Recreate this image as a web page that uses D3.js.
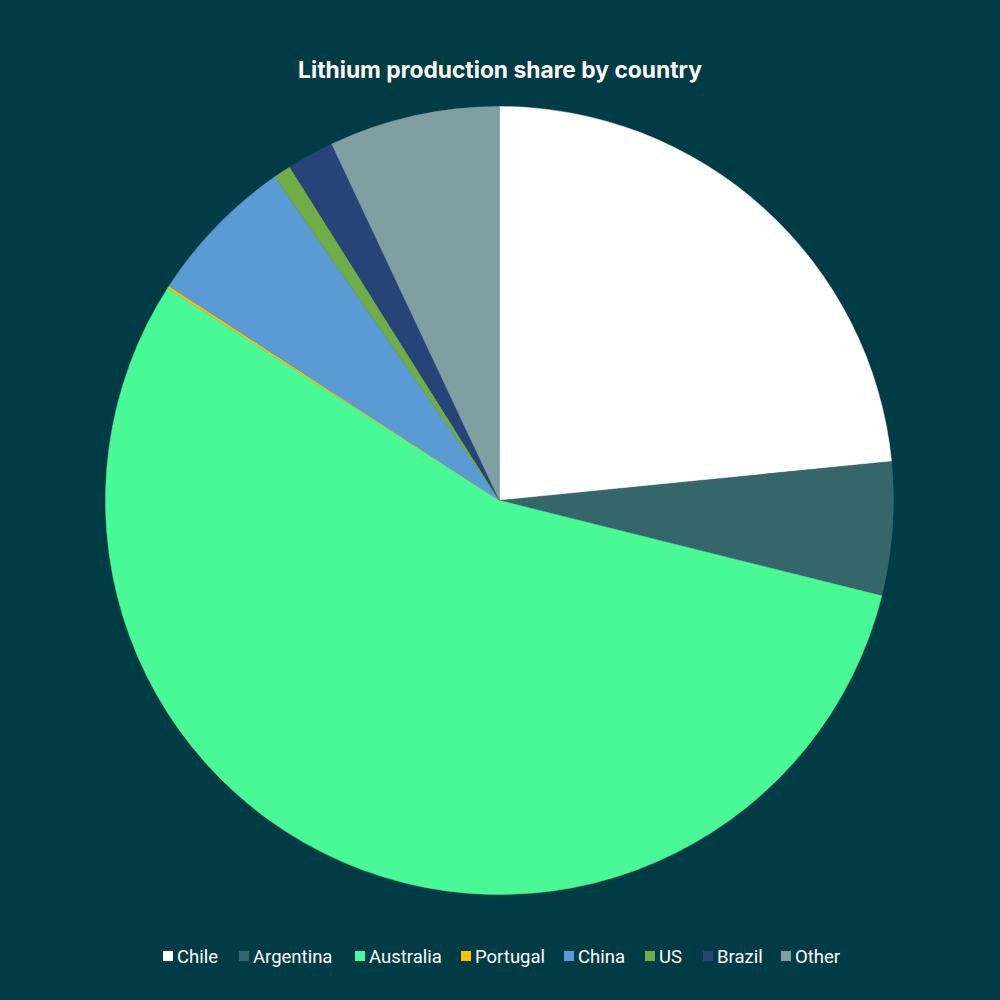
<!DOCTYPE html>
<html><head><meta charset="utf-8">
<script src="https://cdn.jsdelivr.net/npm/d3@7"></script>
<style>html,body{margin:0;padding:0;background:#013B45;}</style>
</head><body>
<script>
const categories = ["Chile","Argentina","Australia","Portugal","China","US","Brazil","Other"];
const shares = [23.42, 5.47, 55.17, 0.10, 6.18, 0.73, 1.93, 7.00];
const colors = ["#ffffff","#35666b","#48f996","#ffc000","#5b9bd5","#70ad47","#264478","#7f9fa1"];
const title = "Lithium production share by country";

const W = 1000, H = 1000;
const svg = d3.select("body").append("svg").attr("width", W).attr("height", H);
svg.append("rect").attr("width", W).attr("height", H).attr("fill", "#013B45");

svg.append("text").attr("x", 500).attr("y", 78).attr("text-anchor", "middle")
  .attr("font-family", "Inter, 'Open Sans', sans-serif").attr("font-weight", 700)
  .attr("font-size", 22.8).attr("fill", "#ffffff").text(title);

const data = categories.map((c, i) => ({name: c, value: shares[i], color: colors[i]}));
const pie = d3.pie().value(d => d.value).sort(null);
const arc = d3.arc().innerRadius(0).outerRadius(394);
const g = svg.append("g").attr("transform", "translate(499.5,500.5)");
g.selectAll("path").data(pie(data)).join("path")
  .attr("d", arc).attr("fill", d => d.data.color)
  .attr("stroke", d => d.data.color).attr("stroke-width", 0.5);

const legendX = [163, 239, 355, 461, 564, 645, 703, 781];
const lg = svg.append("g");
const items = lg.selectAll("g").data(data).join("g")
  .attr("transform", (d, i) => `translate(${legendX[i]},956)`);
items.append("rect").attr("x", 0).attr("y", -5).attr("width", 10).attr("height", 10).attr("fill", d => d.color);
items.append("text").attr("x", 14).attr("y", 6.5).attr("font-family", "Roboto, sans-serif")
  .attr("font-size", 18.5).attr("fill", "#ffffff").text(d => d.name);
</script>
</body></html>
